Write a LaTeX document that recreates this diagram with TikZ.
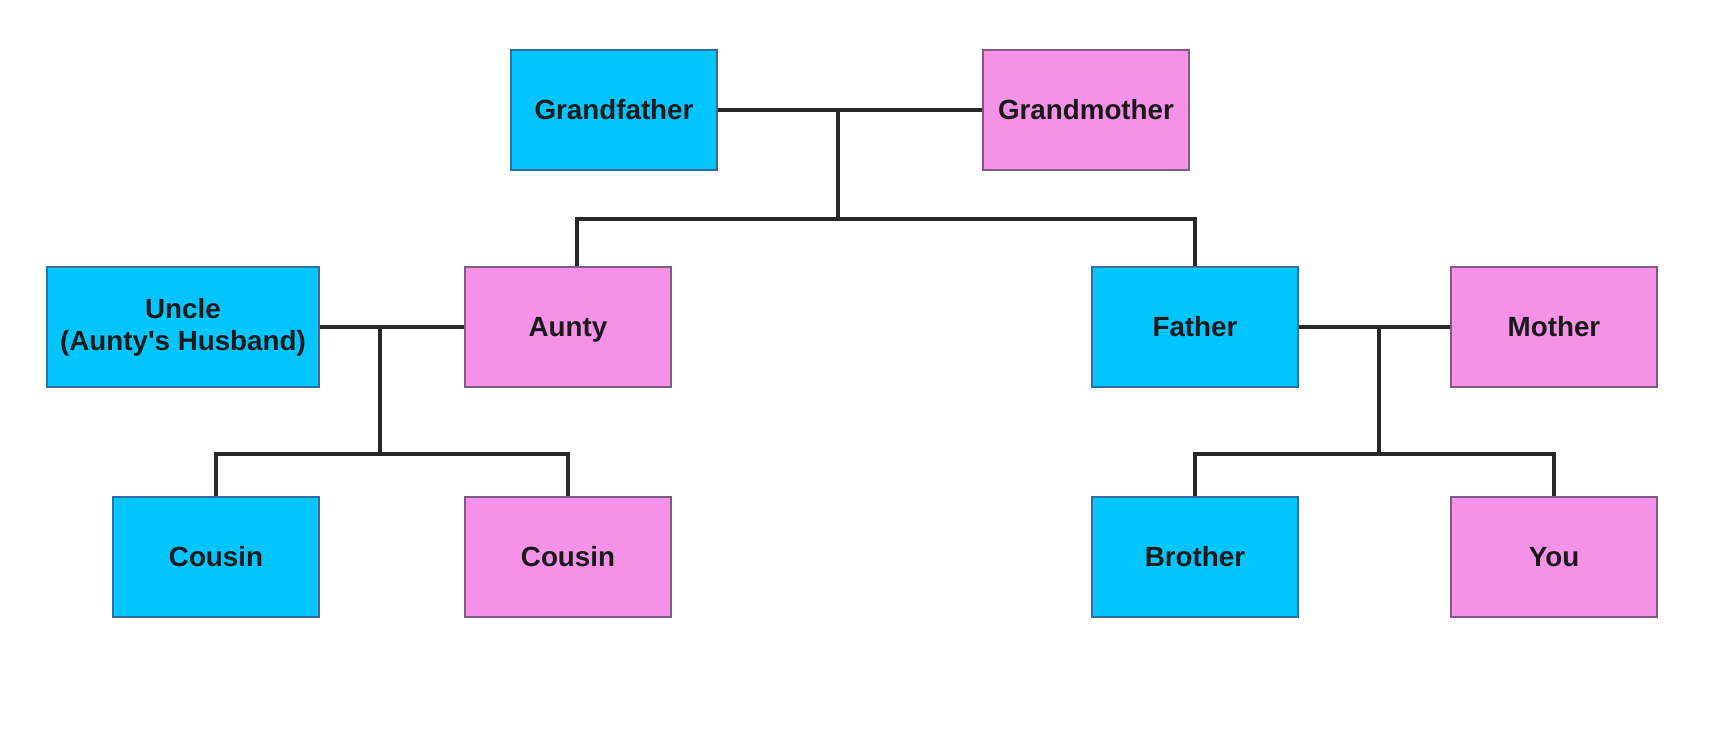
\documentclass[tikz,border=0pt]{standalone}
\usepackage{fontspec}
\setmainfont{Liberation Sans}
\usetikzlibrary{positioning,calc}
\definecolor{malecol}{RGB}{0,197,255}
\definecolor{femalecol}{RGB}{245,145,230}
\definecolor{maleedge}{RGB}{50,110,160}
\definecolor{femaleedge}{RGB}{125,90,135}
\definecolor{linecol}{RGB}{40,40,40}
\definecolor{txtcol}{RGB}{26,26,26}
\tikzset{
  pb/.style={rectangle,draw,minimum width=20.6mm,minimum height=12mm,inner sep=0pt,
    align=center,text=txtcol,font=\fontsize{7.9}{9.2}\selectfont\bfseries,line width=0.4pt},
  ml/.style={pb,fill=malecol,draw=maleedge},
  fm/.style={pb,fill=femalecol,draw=femaleedge},
  le/.style={-,draw=linecol,line width=1.15pt}
}
\begin{document}
\begin{tikzpicture}[x=0.1mm,y=-0.1mm]
  \useasboundingbox (0,0) rectangle (1724,756);
  \node[ml] (gf) at (614,110){Grandfather}; \node[fm] (gm) at (1086,110){Grandmother};
  \node[ml,minimum width=27.2mm] (uncle) at (183,327){Uncle\\(Aunty\textquotesingle s Husband)};
  \node[fm] (aunty) at (568,327){\raisebox{0pt}[\height][0pt]{Aunty}};
  \node[ml] (father) at (1195,327){Father}; \node[fm] (mother) at (1554,327){Mother};
  \node[ml] (cousinA) at (216,557){Cousin}; \node[fm] (cousinB) at (568,557){Cousin};
  \node[ml] (brother) at (1195,557){Brother}; \node[fm] (you) at (1554,557){You};
  % couples and where their children hang
  \coordinate (gp) at (838,110); \coordinate (gpk) at (838,219);
  \coordinate (ua) at (380,327); \coordinate (uak) at (380,454);
  \coordinate (pm) at (1379,327); \coordinate (pmk) at (1379,454);
  \foreach \a/\b in {gf/gm,uncle/aunty,father/mother}{\draw[le](\a.east)--(\b.west);}
  \foreach \a/\b in {gp/gpk,ua/uak,pm/pmk}{\draw[le](\a)--(\b);}
  \draw[le] ([xshift=0.9mm]aunty.north) |- (gpk) -| (father.north);
  \draw[le] (cousinA.north) |- (uak) -| (cousinB.north);
  \draw[le] (brother.north) |- (pmk) -| (you.north);
\end{tikzpicture}
\end{document}
